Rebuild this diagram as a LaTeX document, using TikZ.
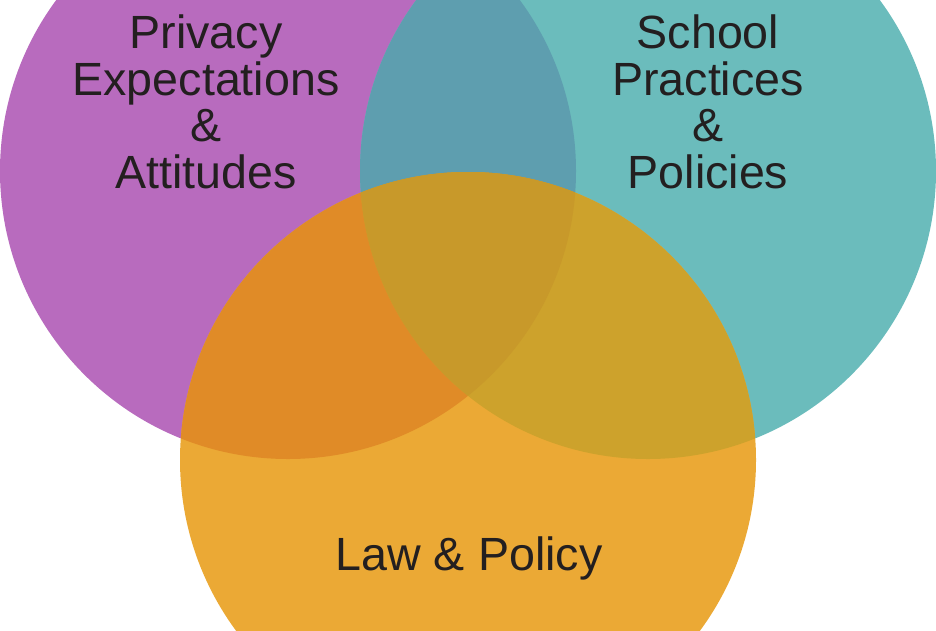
\documentclass[tikz,border=0pt]{standalone}
\usepackage{fontspec}
\setmainfont{Liberation Sans}
\definecolor{cP}{HTML}{B86BBE}
\definecolor{cT}{HTML}{6BBCBC}
\definecolor{cO}{HTML}{EBA935}
\definecolor{cPT}{HTML}{5E9EAF}
\definecolor{cPO}{HTML}{E08B27}
\definecolor{cTO}{HTML}{CDA22C}
\definecolor{cPTO}{HTML}{C8992A}
\definecolor{txt}{HTML}{231F20}
\tikzset{lbl/.style={anchor=base,inner sep=0pt,text=txt,font=\fontsize{46.6}{47}\selectfont}}
\begin{document}
\begin{tikzpicture}[x=1pt,y=-1pt]
\useasboundingbox (0,0) rectangle (936,630);
\def\Pc{(288,171) circle (288)}
\def\Tc{(648,171) circle (288)}
\def\Oc{(468,460) circle (288)}
\begin{scope}
\clip (0,0) rectangle (936,630);
\fill[cP] \Pc;
\fill[cT] \Tc;
\fill[cO] \Oc;
\begin{scope}\clip \Pc; \fill[cPT] \Tc; \end{scope}
\begin{scope}\clip \Pc; \fill[cPO] \Oc; \end{scope}
\begin{scope}\clip \Tc; \fill[cTO] \Oc; \end{scope}
\begin{scope}\clip \Pc; \clip \Tc; \fill[cPTO] \Oc; \end{scope}
\end{scope}
\node[lbl] (p1) at (206,48) {Privacy};
\node[lbl] (p2) at (206,95) {Expectations};
\node[lbl] (p3) at (206,141) {\&};
\node[lbl] (p4) at (206,188) {Attitudes};
\node[lbl] (s1) at (708,48) {School};
\node[lbl] (s2) at (708,95) {Practices};
\node[lbl] (s3) at (708,141) {\&};
\node[lbl] (s4) at (708,188) {Policies};
\node[lbl] (l1) at (469,570) {Law \& Policy};
\end{tikzpicture}
\end{document}
